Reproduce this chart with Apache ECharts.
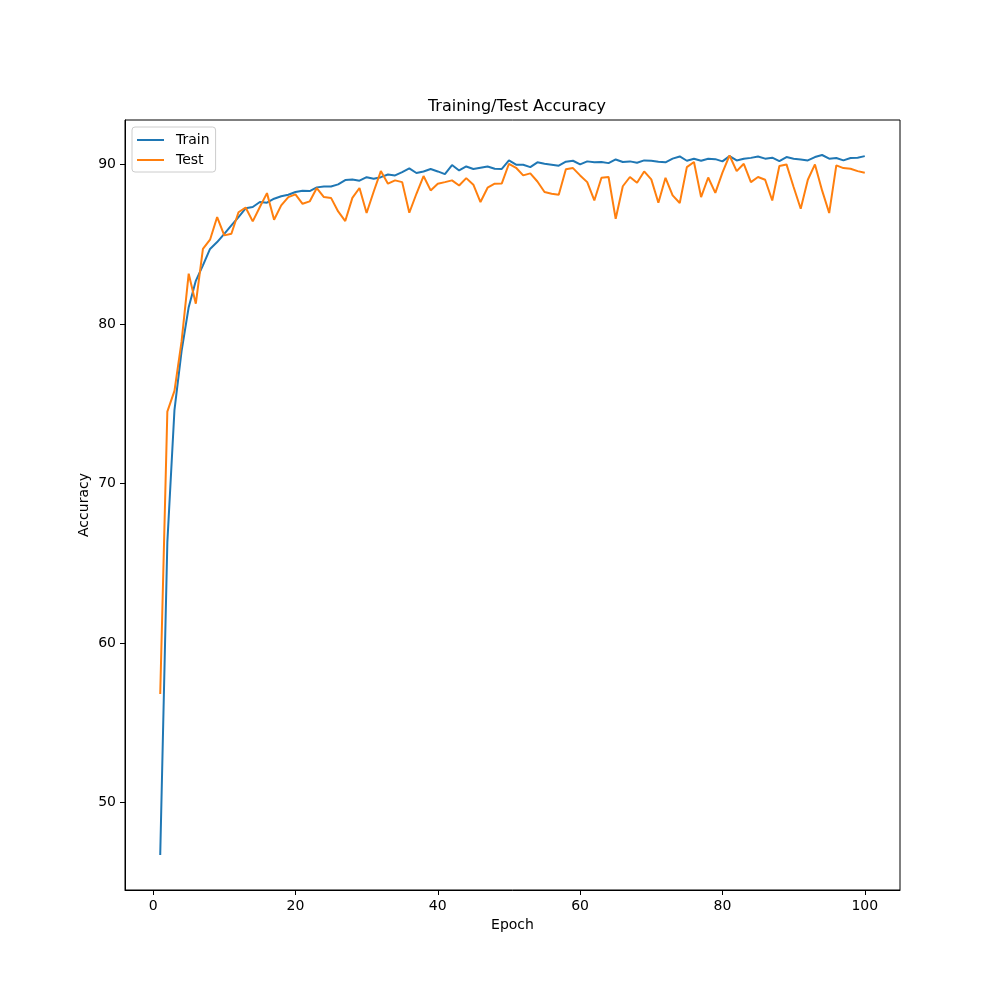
<!DOCTYPE html>
<html>
<head>
<meta charset="utf-8">
<script src="https://cdn.jsdelivr.net/npm/echarts@6/dist/echarts.min.js"></script>
<style>html,body{margin:0;padding:0;background:#fff;}#c{width:1000px;height:1000px;}</style>
</head>
<body>
<div id="c"></div>
<script>
const epochs = Array.from({length: 100}, (_, i) => i + 1);
const trainAcc = [46.7, 66.3, 74.6, 78.3, 81.05, 82.7, 83.67, 84.7, 85.13, 85.65,
  86.18, 86.7, 87.25, 87.33, 87.64, 87.6, 87.85, 88.0, 88.1, 88.27,
  88.35, 88.33, 88.56, 88.62, 88.62, 88.75, 89.02, 89.06, 88.98, 89.2,
  89.1, 89.2, 89.37, 89.31, 89.52, 89.75, 89.46, 89.56, 89.71, 89.56,
  89.39, 89.96, 89.62, 89.87, 89.71, 89.79, 89.87, 89.73, 89.72, 90.25,
  89.98, 89.98, 89.83, 90.13, 90.04, 89.98, 89.92, 90.17, 90.23, 90.0,
  90.19, 90.13, 90.15, 90.08, 90.31, 90.15, 90.19, 90.1, 90.25, 90.23,
  90.17, 90.13, 90.36, 90.5, 90.23, 90.36, 90.23, 90.36, 90.33, 90.19,
  90.52, 90.25, 90.36, 90.41, 90.5, 90.36, 90.42, 90.21, 90.46, 90.36,
  90.31, 90.25, 90.46, 90.59, 90.36, 90.4, 90.25, 90.4, 90.42, 90.52];
const testAcc = [56.8, 74.5, 75.8, 78.9, 83.15, 81.27, 84.7, 85.28, 86.7, 85.55,
  85.65, 87.0, 87.3, 86.43, 87.33, 88.2, 86.53, 87.43, 87.95, 88.12,
  87.53, 87.68, 88.52, 87.95, 87.9, 87.05, 86.45, 87.9, 88.52, 86.95,
  88.3, 89.58, 88.79, 89.0, 88.89, 86.97, 88.16, 89.27, 88.37, 88.79,
  88.89, 89.0, 88.68, 89.14, 88.73, 87.64, 88.54, 88.79, 88.81, 90.04,
  89.79, 89.31, 89.44, 88.93, 88.27, 88.16, 88.1, 89.69, 89.77, 89.31,
  88.89, 87.74, 89.16, 89.21, 86.59, 88.63, 89.21, 88.85, 89.56, 89.06,
  87.6, 89.16, 88.06, 87.58, 89.83, 90.15, 87.95, 89.18, 88.22, 89.48,
  90.56, 89.58, 90.04, 88.89, 89.21, 89.04, 87.74, 89.9, 90.0, 88.58,
  87.22, 89.04, 90.0, 88.37, 86.95, 89.94, 89.77, 89.73, 89.58, 89.48];
const xTicks = [0, 20, 40, 60, 80, 100];
const yTicks = [50, 60, 70, 80, 90];

const font = 'DejaVu Sans';
const chart = echarts.init(document.getElementById('c'), null, {renderer: 'canvas'});
const xMin = 1 - 0.05 * 99, xMax = 100 + 0.05 * 99;
const allV = trainAcc.concat(testAcc);
const vMin = Math.min(...allV), vMax = Math.max(...allV);
const yMin = vMin - 0.05 * (vMax - vMin), yMax = vMax + 0.05 * (vMax - vMin);

chart.setOption({
  animation: false,
  backgroundColor: '#fff',
  title: {
    text: 'Training/Test Accuracy',
    left: 512, top: 94, textAlign: 'center',
    textStyle: {fontFamily: font, fontSize: 16, fontWeight: 'normal', color: '#000'}
  },
  legend: {
    left: 132, top: 127, orient: 'vertical',
    icon: 'rect', itemWidth: 27, itemHeight: 2, itemGap: 6,
    padding: [6, 6, 5, 5],
    backgroundColor: 'rgba(255,255,255,0.8)', borderColor: '#cccccc', borderWidth: 1, borderRadius: 3,
    textStyle: {fontFamily: font, fontSize: 14, color: '#000', lineHeight: 14, padding: [0, 0, 0, 7]},
    data: ['Train', 'Test']
  },
  grid: {left: 125, right: 100, top: 120, bottom: 110, show: true, borderColor: '#000', borderWidth: 1, backgroundColor: 'transparent'},
  xAxis: {
    type: 'value', min: xMin, max: xMax,
    name: 'Epoch', nameLocation: 'middle', nameGap: 28, nameMoveOverlap: false,
    nameTextStyle: {fontFamily: font, fontSize: 14, color: '#000'},
    axisLine: {show: true, onZero: false, lineStyle: {color: '#000', width: 1}},
    axisTick: {show: true, length: 5, lineStyle: {color: '#000'}, customValues: xTicks},
    axisLabel: {fontFamily: font, fontSize: 14, color: '#000', margin: 9, customValues: xTicks},
    splitLine: {show: false}
  },
  yAxis: {
    type: 'value', min: yMin, max: yMax,
    name: 'Accuracy', nameLocation: 'middle', nameGap: 34, nameMoveOverlap: false,
    nameTextStyle: {fontFamily: font, fontSize: 14, color: '#000'},
    axisLine: {show: true, onZero: false, lineStyle: {color: '#000', width: 1}},
    axisTick: {show: true, length: 5, lineStyle: {color: '#000'}, customValues: yTicks},
    axisLabel: {fontFamily: font, fontSize: 14, color: '#000', margin: 9, customValues: yTicks},
    splitLine: {show: false}
  },
  series: [
    {name: 'Train', type: 'line', data: epochs.map((e, i) => [e, trainAcc[i]]), showSymbol: false, symbol: 'none',
     lineStyle: {color: '#1f77b4', width: 2}, itemStyle: {color: '#1f77b4'}},
    {name: 'Test', type: 'line', data: epochs.map((e, i) => [e, testAcc[i]]), showSymbol: false, symbol: 'none',
     lineStyle: {color: '#ff7f0e', width: 2}, itemStyle: {color: '#ff7f0e'}}
  ]
});
</script>
</body>
</html>
